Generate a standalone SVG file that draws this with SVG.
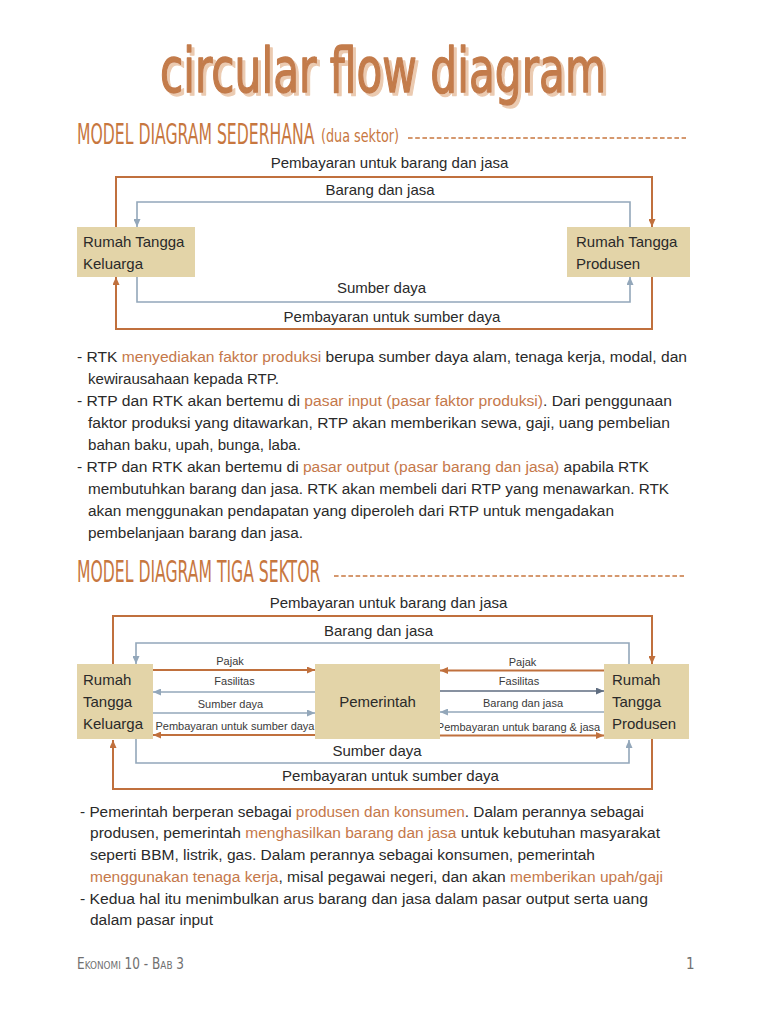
<svg xmlns="http://www.w3.org/2000/svg" width="768" height="1024" viewBox="0 0 768 1024">
<style>
  .bg{fill:#ffffff}
  .title{font-family:"DejaVu Sans Condensed","DejaVu Sans",sans-serif;font-size:47px;fill:#c37b4b;stroke:#c37b4b;stroke-width:1;stroke-linejoin:round}
  .hdr{font-family:"DejaVu Sans Condensed","DejaVu Sans",sans-serif;font-size:17.4px;fill:#c7773f}
  .hdrs{font-family:"DejaVu Sans Condensed","DejaVu Sans",sans-serif;font-size:14.2px;fill:#c7773f}
  .dash{stroke:#c7773f;stroke-width:1.6;stroke-dasharray:4.6 2.6;fill:none}
  .lbl{font-family:"Liberation Sans",Arial,sans-serif;font-size:15px;fill:#2a2a2a}
  .sm{font-family:"Liberation Sans",Arial,sans-serif;font-size:11px;fill:#3a3a3a}
  .mid{text-anchor:middle}
  .box{fill:#e3d4a8}
  .or{stroke:#c0703d;stroke-width:2;fill:none}
  .bl{stroke:#93a7ba;stroke-width:1.6;fill:none}
  .dk{stroke:#5f6d80;stroke-width:1.6;fill:none}
  .body{font-family:"Liberation Sans",Arial,sans-serif;font-size:15.5px;fill:#2a2a2a}
  .hl{fill:#c5784a}
  .foot{font-family:"DejaVu Sans Condensed","DejaVu Sans",sans-serif;font-size:15px;fill:#707070;font-variant:small-caps}
</style>
<defs>
  <filter id="shadow" x="-5%" y="-25%" width="115%" height="160%">
    <feOffset in="SourceAlpha" dx="3" dy="2.4" result="off"/>
    <feFlood flood-color="#ebcab0" result="col"/>
    <feComposite in="col" in2="off" operator="in" result="sh"/>
    <feMerge><feMergeNode in="sh"/><feMergeNode in="SourceGraphic"/></feMerge>
  </filter>
  <marker id="aO" markerUnits="userSpaceOnUse" markerWidth="8" markerHeight="7" refX="8" refY="3.5" orient="auto">
    <path d="M0,0 L8,3.5 L0,7 z" fill="#c0703d"/>
  </marker>
  <marker id="aB" markerUnits="userSpaceOnUse" markerWidth="8" markerHeight="7" refX="8" refY="3.5" orient="auto">
    <path d="M0,0 L8,3.5 L0,7 z" fill="#93a7ba"/>
  </marker>
  <marker id="aD" markerUnits="userSpaceOnUse" markerWidth="8" markerHeight="7" refX="8" refY="3.5" orient="auto">
    <path d="M0,0 L8,3.5 L0,7 z" fill="#5f6d80"/>
  </marker>
</defs>
<rect class="bg" x="0" y="0" width="768" height="1024"/>

<g id="title">
  <text class="title" transform="translate(160,92) scale(1,1.33)" x="0" y="0" filter="url(#shadow)">circular flow diagram</text>
</g>

<g id="header1">
  <text class="hdr" transform="translate(77,143.5) scale(1,1.65)" x="0" y="0">MODEL DIAGRAM SEDERHANA</text>
  <text class="hdrs" transform="translate(321,142) scale(1,1.3)" x="0" y="0">(dua sektor)</text>
  <line class="dash" x1="408" y1="138" x2="686" y2="138"/>
</g>

<!-- Diagram 1 -->
<g id="d1-connectors">
  <path class="or" d="M116,227 V177 H652 V227" marker-end="url(#aO)"/>
  <path class="or" d="M652,277 V329 H116 V277" marker-end="url(#aO)"/>
  <path class="bl" d="M630,227 V202 H137 V227" marker-end="url(#aB)"/>
  <path class="bl" d="M137,277 V302 H630 V277" marker-end="url(#aB)"/>
</g>
<g id="d1-labels">
  <text class="lbl mid" x="389.5" y="168">Pembayaran untuk barang dan jasa</text>
  <text class="lbl mid" x="380" y="194.5">Barang dan jasa</text>
  <text class="lbl mid" x="381.5" y="292.5">Sumber daya</text>
  <text class="lbl mid" x="392" y="322">Pembayaran untuk sumber daya</text>
</g>
<g id="d1-rtk">
  <rect class="box" x="77" y="227" width="118" height="50"/>
  <text class="lbl" x="83" y="246.5">Rumah Tangga</text>
  <text class="lbl" x="83" y="268.5">Keluarga</text>
</g>
<g id="d1-rtp">
  <rect class="box" x="567" y="227" width="123" height="50"/>
  <text class="lbl" x="576" y="246.5">Rumah Tangga</text>
  <text class="lbl" x="576" y="268.5">Produsen</text>
</g>

<g id="text1">
  <text class="body" x="77" y="362" textLength="610" lengthAdjust="spacingAndGlyphs">- RTK <tspan class="hl">menyediakan faktor produksi</tspan> berupa sumber daya alam, tenaga kerja, modal, dan</text>
  <text class="body" x="88" y="384" textLength="191" lengthAdjust="spacingAndGlyphs">kewirausahaan kepada RTP.</text>
  <text class="body" x="77" y="406" textLength="595" lengthAdjust="spacingAndGlyphs">- RTP dan RTK akan bertemu di <tspan class="hl">pasar input (pasar faktor produksi)</tspan>. Dari penggunaan</text>
  <text class="body" x="88" y="428" textLength="582" lengthAdjust="spacingAndGlyphs">faktor produksi yang ditawarkan, RTP akan memberikan sewa, gaji, uang pembelian</text>
  <text class="body" x="88" y="450" textLength="213" lengthAdjust="spacingAndGlyphs">bahan baku, upah, bunga, laba.</text>
  <text class="body" x="77" y="472" textLength="572" lengthAdjust="spacingAndGlyphs">- RTP dan RTK akan bertemu di <tspan class="hl">pasar output (pasar barang dan jasa)</tspan> apabila RTK</text>
  <text class="body" x="88" y="494" textLength="581" lengthAdjust="spacingAndGlyphs">membutuhkan barang dan jasa. RTK akan membeli dari RTP yang menawarkan. RTK</text>
  <text class="body" x="88" y="516" textLength="526" lengthAdjust="spacingAndGlyphs">akan menggunakan pendapatan yang diperoleh dari RTP untuk mengadakan</text>
  <text class="body" x="88" y="538" textLength="215" lengthAdjust="spacingAndGlyphs">pembelanjaan barang dan jasa.</text>
</g>

<g id="header2">
  <text class="hdr" transform="translate(77,582) scale(1,1.7)" x="0" y="0">MODEL DIAGRAM TIGA SEKTOR</text>
  <line class="dash" x1="334" y1="576" x2="684" y2="576"/>
</g>

<!-- Diagram 2 -->
<g id="d2-connectors">
  <path class="or" d="M113,664 V616 H652 V664" marker-end="url(#aO)"/>
  <path class="or" d="M652,739 V789 H113 V740" marker-end="url(#aO)"/>
  <path class="bl" d="M629,664 V643 H136 V664" marker-end="url(#aB)"/>
  <path class="bl" d="M136,739 V763 H629 V740" marker-end="url(#aB)"/>
  <line class="or" x1="153" y1="670" x2="315" y2="670" marker-end="url(#aO)"/>
  <line class="bl" x1="315" y1="692" x2="153" y2="692" marker-end="url(#aB)"/>
  <line class="bl" x1="153" y1="713" x2="315" y2="713" marker-end="url(#aB)"/>
  <line class="or" x1="315" y1="735" x2="153" y2="735" marker-end="url(#aO)"/>
  <line class="or" x1="604" y1="670.5" x2="440" y2="670.5" marker-end="url(#aO)"/>
  <line class="dk" x1="440" y1="691" x2="604" y2="691" marker-end="url(#aD)"/>
  <line class="bl" x1="604" y1="712" x2="440" y2="712" marker-end="url(#aB)"/>
  <line class="or" x1="440" y1="735.5" x2="604" y2="735.5" marker-end="url(#aO)"/>
</g>
<g id="d2-labels">
  <text class="lbl mid" x="388.5" y="608">Pembayaran untuk barang dan jasa</text>
  <text class="lbl mid" x="378.5" y="636">Barang dan jasa</text>
  <text class="lbl mid" x="377" y="756">Sumber daya</text>
  <text class="lbl mid" x="390.5" y="780.5">Pembayaran untuk sumber daya</text>
  <text class="sm mid" x="230" y="665">Pajak</text>
  <text class="sm mid" x="234.5" y="685">Fasilitas</text>
  <text class="sm mid" x="230.5" y="708">Sumber daya</text>
  <text class="sm mid" x="235" y="730">Pembayaran untuk sumber daya</text>
  <text class="sm mid" x="522.5" y="666">Pajak</text>
  <text class="sm mid" x="519" y="685">Fasilitas</text>
  <text class="sm mid" x="523" y="707">Barang dan jasa</text>
  <text class="sm mid" x="518.5" y="731">Pembayaran untuk barang &amp; jasa</text>
</g>
<g id="d2-rtk">
  <rect class="box" x="77" y="664" width="76" height="75"/>
  <text class="lbl" x="83" y="685">Rumah</text>
  <text class="lbl" x="83" y="707">Tangga</text>
  <text class="lbl" x="83" y="729">Keluarga</text>
</g>
<g id="d2-gov">
  <rect class="box" x="315" y="664" width="125" height="75"/>
  <text class="lbl mid" x="377.5" y="707">Pemerintah</text>
</g>
<g id="d2-rtp">
  <rect class="box" x="604" y="664" width="85" height="75"/>
  <text class="lbl" x="612" y="685">Rumah</text>
  <text class="lbl" x="612" y="707">Tangga</text>
  <text class="lbl" x="612" y="729">Produsen</text>
</g>

<g id="text2">
  <text class="body" x="80" y="816.5" textLength="564" lengthAdjust="spacingAndGlyphs">- Pemerintah berperan sebagai <tspan class="hl">produsen dan konsumen</tspan>. Dalam perannya sebagai</text>
  <text class="body" x="90" y="838" textLength="570" lengthAdjust="spacingAndGlyphs">produsen, pemerintah <tspan class="hl">menghasilkan barang dan jasa</tspan> untuk kebutuhan masyarakat</text>
  <text class="body" x="90" y="860" textLength="505" lengthAdjust="spacingAndGlyphs">seperti BBM, listrik, gas. Dalam perannya sebagai konsumen, pemerintah</text>
  <text class="body" x="90" y="881.5" textLength="573" lengthAdjust="spacingAndGlyphs"><tspan class="hl">menggunakan tenaga kerja</tspan>, misal pegawai negeri, dan akan <tspan class="hl">memberikan upah/gaji</tspan></text>
  <text class="body" x="80" y="903.5" textLength="568" lengthAdjust="spacingAndGlyphs">- Kedua hal itu menimbulkan arus barang dan jasa dalam pasar output serta uang</text>
  <text class="body" x="90" y="925" textLength="123" lengthAdjust="spacingAndGlyphs">dalam pasar input</text>
</g>

<g id="footer">
  <text class="foot" x="77" y="969" textLength="107" lengthAdjust="spacingAndGlyphs">Ekonomi 10 - Bab 3</text>
  <text class="foot" x="686" y="969">1</text>
</g>
</svg>
